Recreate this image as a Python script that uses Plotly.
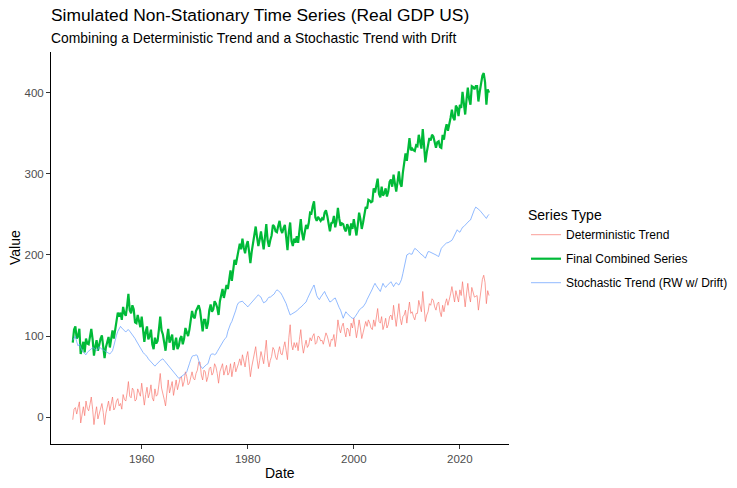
import pandas as pd
import plotly.graph_objects as go

# Quarterly observations, 1947 Q1 .. 2025 Q3 (one row = one year, Q1..Q4)
deterministic = [
    -3, 10, 12, 4,   12, 19, -7, 6,   13, 2, 20, 11,   8, 16, 25, 10,     # 1947-1950
    -9, 4, 13, -2,   4, 12, 17, 6,    -9, 5, 13, 20,   8, 15, 25, 9,      # 1951-1954
    12, 20, 23, 14,  17, 10, 28, 22,  20, 30, 44, 26,  24, 36, 33, 20,    # 1955-1958
    22, 35, 30, 26,  42, 30, 15, 28,  37, 24, 30, 40,  24, 20, 35, 26,    # 1959-1962
    28, 40, 54, 36,  30, 22, 14, 32,  46, 30, 36, 44,  27, 38, 46, 34,    # 1963-1966
    40, 48, 50, 38,  44, 56, 50, 40,  42, 50, 56, 48,  46, 54, 58, 68,    # 1967-1970
    68, 52, 46, 58,  56, 44, 50, 60,  62, 52, 55, 66,  62, 54, 42, 56,    # 1971-1974
    60, 66, 52, 58,  64, 52, 55, 66,  50, 60, 68, 56,  60, 66, 72, 64,    # 1975-1978
    77, 68, 62, 74,  81, 66, 50, 62,  70, 78, 87, 72,  60, 70, 81, 74,    # 1979-1982
    66, 80, 95, 72,  62, 70, 75, 86,  83, 74, 71, 80,  87, 78, 77, 86,    # 1983-1986
    93, 82, 71, 98,  114, 90, 83, 92, 86, 92, 82, 96,  108, 90, 79, 88,   # 1987-1990
    95, 86, 89, 98,  94, 100, 103, 90, 92, 100, 99, 94, 95, 90, 97, 104,  # 1991-1994
    100, 94, 87, 96, 95, 102, 87, 100, 120, 110, 104, 112, 116, 106, 99, 110,  # 1995-1998
    108, 100, 116, 110, 122, 110, 98, 108, 120, 110, 97, 104, 110, 118, 112, 120,  # 1999-2002
    116, 110, 108, 120, 112, 124, 134, 118, 116, 124, 108, 114, 122, 110, 114, 124,  # 2003-2006
    126, 120, 138, 124, 112, 126, 140, 122, 114, 124, 126, 132, 116, 130, 142, 128,  # 2007-2010
    130, 124, 120, 128, 128, 144, 137, 130, 155, 134, 118, 126, 130, 140, 138, 146,  # 2011-2014
    144, 136, 132, 140, 142, 130, 124, 138, 130, 140, 146, 138, 144, 152, 161, 148,  # 2015-2018
    142, 156, 150, 142, 157, 150, 167, 148, 136, 152, 165, 150, 142, 160, 155, 148,  # 2019-2022
    149, 150, 132, 146, 162, 170, 175, 166, 140, 156, 150,                          # 2023-2025
]

stochastic = [
    95, 98, 100, 93,  88, 90, 85, 82,  80, 78, 77, 80,  82, 83, 84, 86,          # 1947-1950
    85, 83, 82, 84,   87, 85, 84, 83,  82, 81, 80, 79,  78, 80, 82, 88,          # 1951-1954
    96, 101, 106, 110, 112, 110, 108, 106, 105, 107, 108, 106, 104, 102, 100, 97,  # 1955-1958
    94, 91, 88, 85,   82, 80, 78, 77,  75, 72, 70, 68,  66, 64, 63, 65,          # 1959-1962
    66, 68, 70, 71,   72, 70, 68, 65,  63, 62, 60, 58,  56, 54, 52, 50,          # 1963-1966
    48, 49, 50, 52,   53, 54, 56, 60,  66, 71, 75, 76,  76, 77, 76, 70,          # 1967-1970
    64, 62, 60, 62,   64, 65, 66, 72,  77, 78, 78, 77,  78, 81, 84, 87,          # 1971-1974
    89, 92, 95, 97,   99, 106, 112, 115, 118, 122, 126, 132, 138, 141, 142, 143, # 1975-1978
    143, 141, 140, 138, 136, 138, 140, 142, 144, 146, 148, 150, 151, 149, 148, 144,  # 1979-1982
    141, 142, 143, 146, 148, 148, 149, 151, 152, 155, 157, 156, 155, 153, 150, 147,  # 1983-1986
    144, 140, 135, 130, 126, 127, 128, 128, 129, 131, 133, 134, 136, 137, 139, 140,  # 1987-1990
    142, 146, 150, 154, 157, 160, 163, 156, 150, 147, 145, 148, 150, 153, 155, 151,  # 1991-1994
    148, 145, 142, 143, 145, 146, 147, 142, 138, 135, 132, 127, 122, 126, 130, 128,  # 1995-1998
    126, 124, 123, 122, 122, 124, 126, 129, 132, 134, 135, 136, 138, 141, 145, 148,  # 1999-2002
    151, 155, 158, 162, 165, 162, 160, 157, 155, 160, 165, 162, 160, 162, 164, 166,  # 2003-2006
    167, 164, 161, 164, 166, 164, 163, 166, 170, 177, 185, 193, 200, 201, 202, 201,  # 2007-2010
    201, 205, 208, 207, 206, 204, 202, 201, 200, 198, 196, 200, 204, 204, 203, 202,  # 2011-2014
    202, 201, 200, 199, 198, 203, 208, 210, 212, 214, 215, 215, 216, 217, 218, 221,  # 2015-2018
    224, 228, 231, 229, 228, 231, 234, 235, 237, 239, 241, 242, 243, 248, 252, 256,  # 2019-2022
    259, 258, 257, 255, 253, 251, 249, 247, 245, 248, 250,                          # 2023-2025
]

combined = [
    92, 108, 112, 97,  100, 109, 78, 88,  93, 80, 97, 91,  90, 99, 109, 96,      # 1947-1950
    76, 87, 95, 82,    91, 97, 101, 89,   73, 86, 93, 99,  86, 95, 107, 97,      # 1951-1954
    108, 121, 129, 124, 129, 120, 136, 128, 125, 137, 152, 132, 128, 138, 133, 117,  # 1955-1958
    116, 126, 118, 111, 124, 110, 93, 105, 112, 96, 100, 108, 90, 84, 98, 91,    # 1959-1962
    94, 108, 124, 107, 102, 92, 82, 97,  109, 92, 96, 102,  83, 92, 98, 84,      # 1963-1966
    88, 97, 100, 90,   97, 110, 106, 100, 108, 121, 131, 124, 122, 131, 134, 138,  # 1967-1970
    132, 114, 106, 120, 120, 109, 116, 132, 139, 130, 133, 143, 140, 135, 126, 143,  # 1971-1974
    149, 158, 147, 155, 163, 158, 167, 181, 168, 182, 194, 188, 198, 207, 214, 207,  # 1975-1978
    220, 209, 202, 212, 217, 204, 190, 204, 214, 224, 235, 222, 211, 219, 229, 218,  # 1979-1982
    207, 222, 238, 218, 210, 218, 224, 237, 235, 229, 228, 236, 242, 231, 227, 233,  # 1983-1986
    237, 222, 206, 228, 240, 217, 211, 220, 215, 223, 215, 230, 244, 227, 218, 228,  # 1987-1990
    237, 232, 239, 252, 251, 260, 266, 246, 242, 247, 244, 242, 245, 243, 252, 255,  # 1991-1994
    248, 239, 229, 239, 240, 248, 234, 242, 258, 245, 236, 239, 238, 232, 229, 238,  # 1995-1998
    234, 224, 239, 232, 244, 234, 224, 237, 252, 244, 232, 240, 248, 259, 257, 268,  # 1999-2002
    267, 265, 266, 282, 277, 286, 294, 275, 271, 284, 273, 276, 282, 272, 278, 290,  # 2003-2006
    293, 284, 299, 288, 278, 290, 303, 288, 284, 301, 311, 325, 316, 331, 344, 329,  # 2007-2010
    331, 329, 328, 335, 334, 348, 339, 331, 355, 332, 314, 326, 334, 344, 341, 348,  # 2011-2014
    346, 337, 332, 339, 340, 333, 332, 348, 342, 354, 361, 353, 360, 369, 379, 369,  # 2015-2018
    366, 384, 381, 371, 385, 381, 401, 383, 373, 391, 406, 392, 385, 408, 407, 404,  # 2019-2022
    408, 408, 389, 401, 415, 421, 424, 413, 385, 404, 400,                          # 2023-2025
]

series_names = ["Deterministic Trend", "Final Combined Series", "Stochastic Trend (RW w/ Drift)"]
series_colors = ["#F8766D", "#00BA38", "#619CFF"]
series_widths = [0.7, 2.2, 0.7]

assert len(deterministic) == len(stochastic) == len(combined)
dates = pd.date_range("1947-01-01", periods=len(combined), freq="QS")

fig = go.Figure()
for name, vals, col, w in zip(series_names, [deterministic, combined, stochastic], series_colors, series_widths):
    fig.add_trace(go.Scatter(x=dates, y=vals, mode="lines", name=name, legendgroup=name,
                             line=dict(color=col, width=w)))

L, R, T, B = 51, 228, 52, 44
W, H = 737, 488
pw, ph = W - L - R, H - T - B

def px_x(x):
    return (x - L) / pw

def px_y(y):
    return (H - B - y) / ph

FONT = "Liberation Sans, Arial, sans-serif"
fig.update_layout(
    width=W, height=H, margin=dict(l=L, r=R, t=T, b=B),
    paper_bgcolor="white", plot_bgcolor="white",
    font=dict(family=FONT, color="black"),
    showlegend=True,
    legend=dict(title=dict(text="Series Type", font=dict(size=14, color="black")),
                font=dict(size=12, color="black"),
                xref="container", x=526 / W, xanchor="left",
                y=0.5 - 2 / ph, yanchor="middle", tracegroupgap=5, bgcolor="rgba(0,0,0,0)"),
    xaxis=dict(range=["1942-11-25", "2029-04-07"], showgrid=False, zeroline=False,
               showline=True, linecolor="black", linewidth=1,
               ticks="outside", ticklen=4, tickcolor="#333333", tickwidth=1,
               tick0="1960-01-01", dtick="M240", tickformat="%Y",
               tickfont=dict(size=11.5, color="#4D4D4D")),
    yaxis=dict(range=[-32.9, 450], showgrid=False, zeroline=False,
               showline=True, linecolor="black", linewidth=1,
               ticks="outside", ticklen=4, tickcolor="#333333", tickwidth=1,
               tickvals=[0, 100, 200, 300, 400],
               tickfont=dict(size=11.5, color="#4D4D4D")),
    annotations=[
        dict(text="Simulated Non-Stationary Time Series (Real GDP US)", xref="paper", yref="paper",
             x=px_x(49), y=px_y(15), xanchor="left", yanchor="middle", showarrow=False,
             font=dict(size=17.4, color="black")),
        dict(text="Combining a Deterministic Trend and a Stochastic Trend with Drift", xref="paper", yref="paper",
             x=px_x(49), y=px_y(38), xanchor="left", yanchor="middle", showarrow=False,
             font=dict(size=13.9, color="black")),
        dict(text="Date", xref="paper", yref="paper", x=0.5, y=px_y(473),
             xanchor="center", yanchor="middle", showarrow=False, font=dict(size=14, color="black")),
        dict(text="Value", xref="paper", yref="paper", x=px_x(15), y=0.5, textangle=-90,
             xanchor="center", yanchor="middle", showarrow=False, font=dict(size=14, color="black")),
    ],
)

fig.write_html("out.html")
